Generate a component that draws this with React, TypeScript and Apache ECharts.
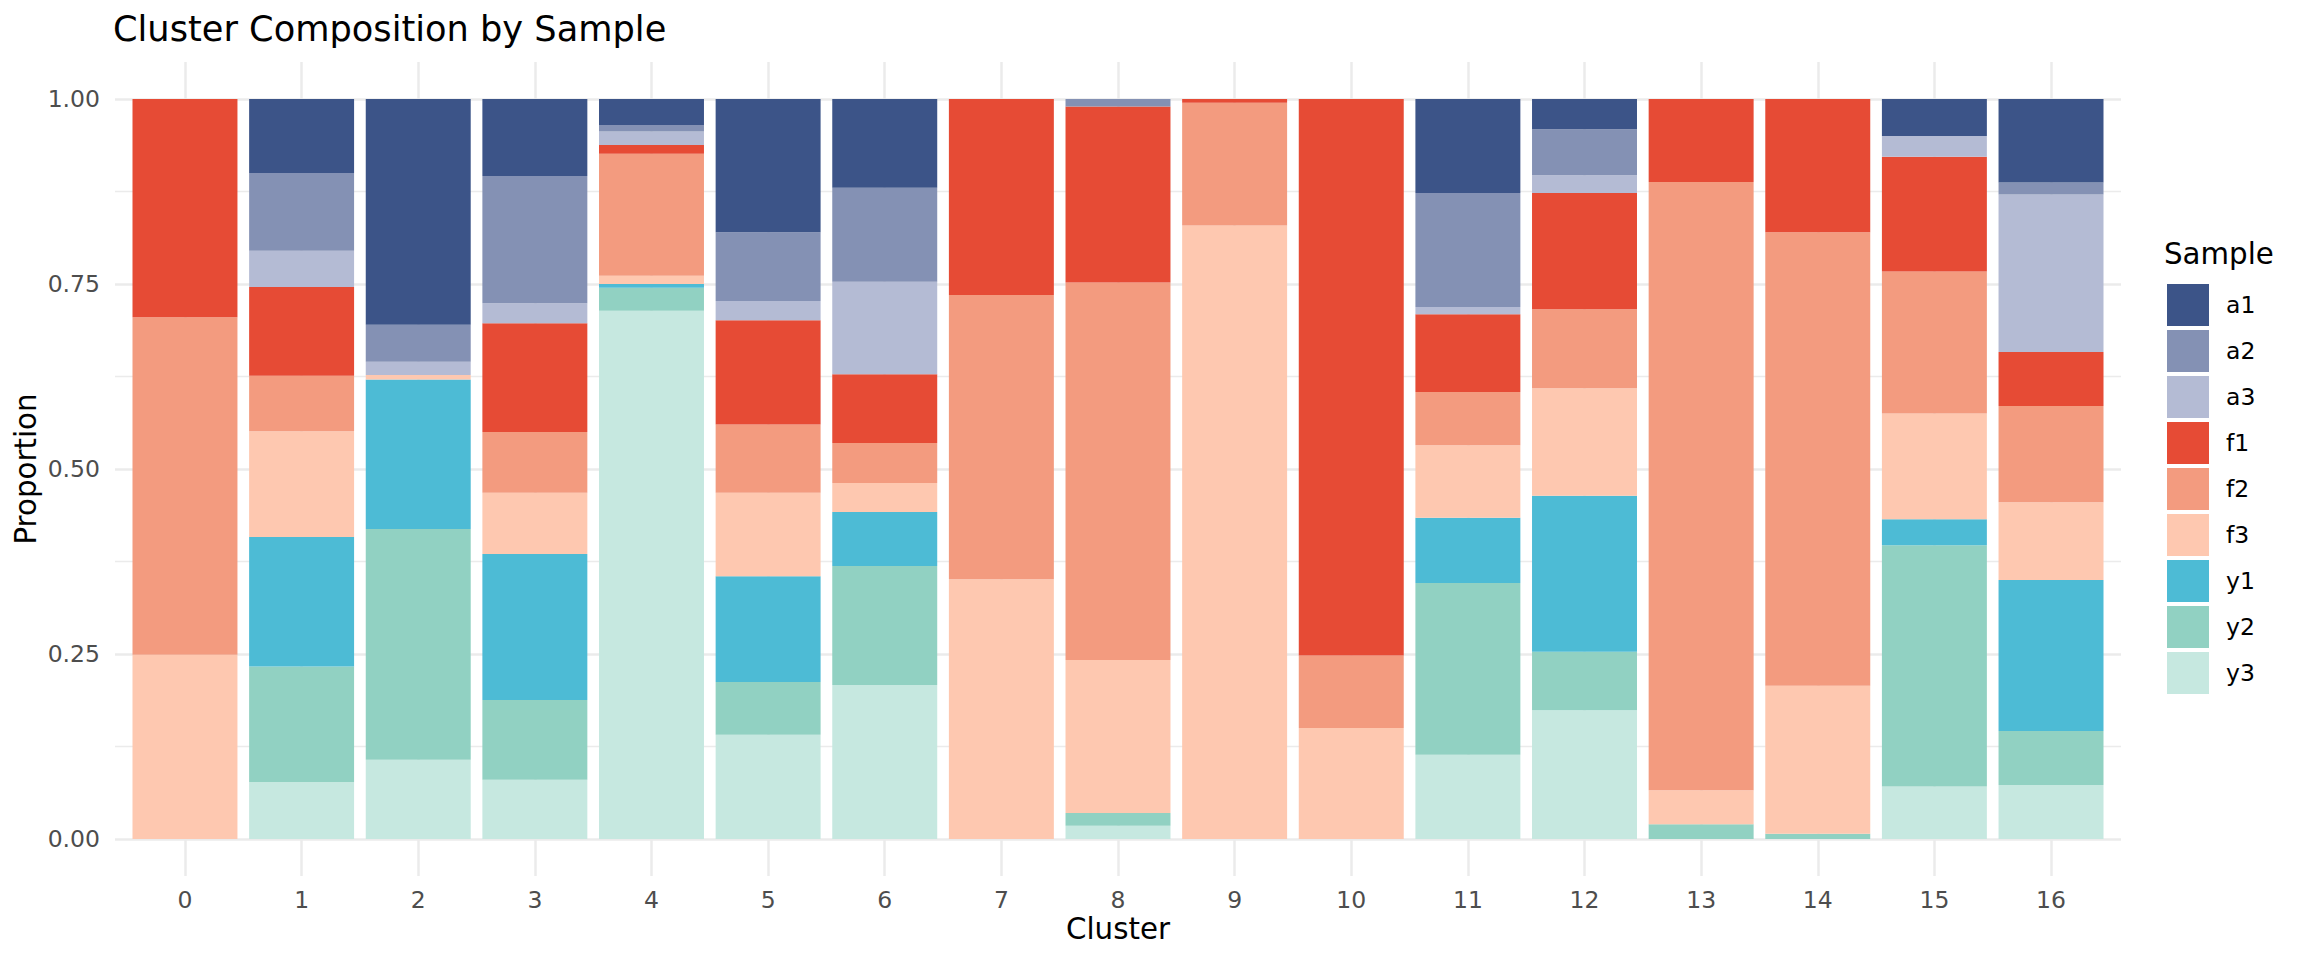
import React, { useEffect, useRef } from "react";
import * as echarts from "echarts";

// ---- Data ----
const clusters = ["0", "1", "2", "3", "4", "5", "6", "7", "8", "9", "10", "11", "12", "13", "14", "15", "16"];
const samples = ["a1", "a2", "a3", "f1", "f2", "f3", "y1", "y2", "y3"];
const yTicks = [0, 0.25, 0.5, 0.75, 1];

const a1 = [0, 0.100, 0.305, 0.104, 0.035, 0.180, 0.120, 0, 0, 0, 0, 0.127, 0.041, 0, 0, 0.050, 0.113];
const a2 = [0, 0.105, 0.050, 0.172, 0.009, 0.093, 0.127, 0, 0.010, 0, 0, 0.154, 0.062, 0, 0, 0, 0.016];
const a3 = [0, 0.049, 0.018, 0.027, 0.018, 0.026, 0.125, 0, 0, 0, 0, 0.010, 0.024, 0, 0, 0.028, 0.213];
const f1 = [0.295, 0.120, 0, 0.147, 0.012, 0.141, 0.093, 0.265, 0.238, 0.005, 0.752, 0.105, 0.157, 0.112, 0.180, 0.155, 0.073];
const f2 = [0.456, 0.075, 0, 0.082, 0.165, 0.092, 0.054, 0.384, 0.510, 0.166, 0.098, 0.072, 0.107, 0.822, 0.613, 0.192, 0.130];
const f3 = [0.249, 0.143, 0.006, 0.083, 0.011, 0.113, 0.039, 0.351, 0.207, 0.829, 0.150, 0.098, 0.145, 0.046, 0.200, 0.143, 0.105];
const y1 = [0, 0.175, 0.202, 0.197, 0.005, 0.143, 0.073, 0, 0, 0, 0, 0.088, 0.211, 0, 0, 0.035, 0.204];
const y2 = [0, 0.156, 0.312, 0.108, 0.031, 0.071, 0.161, 0, 0.017, 0, 0, 0.232, 0.079, 0.020, 0.007, 0.326, 0.073];
const y3 = [0, 0.077, 0.107, 0.080, 0.714, 0.141, 0.208, 0, 0.018, 0, 0, 0.114, 0.174, 0, 0, 0.071, 0.073];

const sampleValues: Record<string, number[]> = { a1, a2, a3, f1, f2, f3, y1, y2, y3 };
const sampleColors: Record<string, string> = {
  a1: "#3C5488",
  a2: "#8491B4",
  a3: "#B4BBD4",
  f1: "#E64B35",
  f2: "#F39B7F",
  f3: "#FEC8B0",
  y1: "#4DBBD5",
  y2: "#91D1C2",
  y3: "#C6E8E0",
};
// bottom to top stacking order
const stackOrder = ["y3", "y2", "y1", "f3", "f2", "f1", "a3", "a2", "a1"];

const FONT = "DejaVu Sans";

export default function App() {
  const ref = useRef<HTMLDivElement>(null);

  useEffect(() => {
    if (!ref.current) return;
    const chart = echarts.init(ref.current, null, { renderer: "svg" });

    // layout (pixels)
    const PL = 115; // panel left
    const PR = 2121; // panel right
    const PT = 62; // panel top (y = 1.05)
    const PB = 876; // panel bottom (y = -0.05)
    const n = clusters.length;
    const xExp = 0.6;
    const unit = (PR - PL) / (n - 1 + 2 * xExp);
    const x0 = PL + xExp * unit;
    const yUnit = (PB - PT) / 1.1;
    const yTop = PT + 0.05 * yUnit;
    const yBot = PB - 0.05 * yUnit;

    const series = stackOrder.map((s) => ({
      name: s,
      type: "bar",
      stack: "total",
      xAxisIndex: 0,
      yAxisIndex: 0,
      barWidth: 0.9 * unit,
      itemStyle: { color: sampleColors[s] },
      emphasis: { disabled: true },
      data: sampleValues[s],
      z: 5,
    }));

    const option: any = {
      animation: false,
      backgroundColor: "#ffffff",
      textStyle: { fontFamily: FONT },
      grid: [
        { left: x0 - 0.5 * unit, top: PT, width: n * unit, height: PB - PT, containLabel: false },
        { left: PL, top: yTop, width: PR - PL, height: yBot - yTop, containLabel: false },
        { left: x0, top: PT, width: (n - 1) * unit, height: PB - PT, containLabel: false },
      ],
      xAxis: [
        { type: "category", gridIndex: 0, data: clusters, boundaryGap: true, show: false },
        { type: "value", gridIndex: 1, min: 0, max: 1, show: false },
        {
          type: "value",
          gridIndex: 2,
          min: 0,
          max: n - 1,
          interval: 1,
          axisLine: { show: false },
          axisTick: { show: false },
          axisLabel: {
            color: "#4D4D4D",
            fontSize: 23.5,
            fontFamily: FONT,
            margin: 12,
            formatter: (v: number) => clusters[Math.round(v)] ?? "",
          },
          splitLine: { show: true, lineStyle: { color: "#EBEBEB", width: 2.5 } },
        },
      ],
      yAxis: [
        { type: "value", gridIndex: 0, min: -0.05, max: 1.05, show: false },
        {
          type: "value",
          gridIndex: 1,
          min: yTicks[0],
          max: yTicks[yTicks.length - 1],
          interval: 0.25,
          axisLine: { show: false },
          axisTick: { show: false },
          axisLabel: {
            color: "#4D4D4D",
            fontSize: 23.5,
            fontFamily: FONT,
            margin: 15,
            formatter: (v: number) => v.toFixed(2),
          },
          splitLine: { show: true, lineStyle: { color: "#EBEBEB", width: 2.5 } },
          minorTick: { show: false, splitNumber: 2 },
          minorSplitLine: { show: true, lineStyle: { color: "#EBEBEB", width: 1.3 } },
        },
        { type: "value", gridIndex: 2, min: 0, max: 1, show: false },
      ],
      legend: {
        orient: "vertical",
        left: 2167,
        top: 284,
        padding: 0,
        itemWidth: 42,
        itemHeight: 42,
        itemGap: 4,
        icon: "rect",
        selectedMode: false,
        data: samples,
        textStyle: {
          color: "#000000",
          fontSize: 23.5,
          fontFamily: FONT,
          padding: [0, 0, 0, 12],
        },
      },
      graphic: [
        {
          type: "text",
          x: 113,
          y: 28,
          style: {
            text: "Cluster Composition by Sample",
            fontSize: 35.2,
            fontFamily: FONT,
            fill: "#000000",
            textAlign: "left",
            textVerticalAlign: "middle",
          },
        },
        {
          type: "text",
          x: (PL + PR) / 2,
          y: 929,
          style: {
            text: "Cluster",
            fontSize: 29.3,
            fontFamily: FONT,
            fill: "#000000",
            textAlign: "center",
            textVerticalAlign: "middle",
          },
        },
        {
          type: "text",
          x: 26,
          y: (PT + PB) / 2,
          rotation: Math.PI / 2,
          style: {
            text: "Proportion",
            fontSize: 29.3,
            fontFamily: FONT,
            fill: "#000000",
            textAlign: "center",
            textVerticalAlign: "middle",
          },
        },
        {
          type: "text",
          x: 2164,
          y: 254,
          style: {
            text: "Sample",
            fontSize: 29.3,
            fontFamily: FONT,
            fill: "#000000",
            textAlign: "left",
            textVerticalAlign: "middle",
          },
        },
      ],
      series,
    };

    chart.setOption(option);
    return () => {
      chart.dispose();
    };
  }, []);

  return (
    <div
      ref={ref}
      style={{ position: "fixed", left: 0, top: 0, width: 2304, height: 960, background: "#fff" }}
    />
  );
}
